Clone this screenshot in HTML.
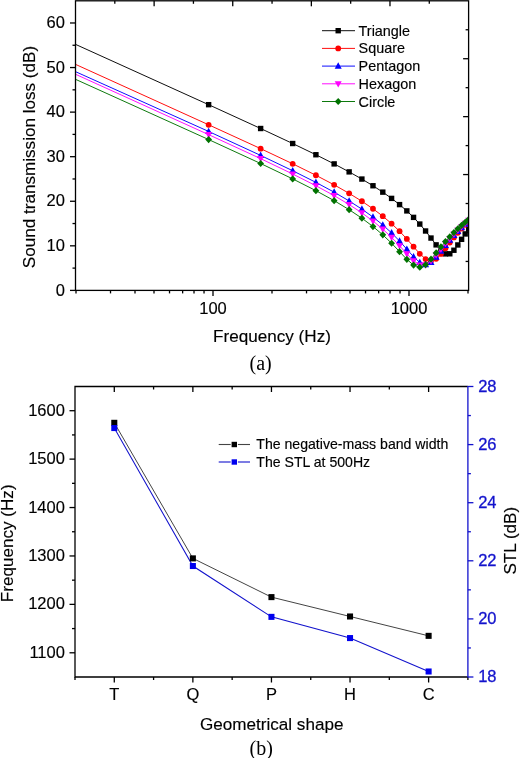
<!DOCTYPE html>
<html lang="en"><head><meta charset="utf-8"><title>Sound transmission loss figure</title>
<style>html,body{margin:0;padding:0;background:#fff}svg text{paint-order:stroke}svg text:not([fill]){stroke:#000;stroke-width:0.15px}svg text.s{stroke:none}body{width:520px;height:758px;overflow:hidden}</style>
</head><body>
<svg width="520" height="758" viewBox="0 0 520 758" style="display:block">
<rect width="520" height="758" fill="#fff"/>
<clipPath id="ca"><rect x="75.5" y="0.8" width="393.1" height="289.59999999999997"/></clipPath>
<g clip-path="url(#ca)">
<polyline fill="none" stroke="#000000" stroke-width="0.95" points="51.51,33.49 208.63,104.68 260.64,128.51 292.68,143.52 315.91,154.74 334.14,163.90 349.14,171.88 361.89,179.06 372.98,185.75 382.79,192.14 391.59,198.39 399.56,204.61 406.84,210.90 413.56,217.37 419.78,224.06 425.58,230.99 431.00,238.05 436.11,244.86 440.92,250.57 445.48,253.88 449.80,253.79 453.92,250.24 457.84,244.95 461.60,239.32 465.19,233.96 468.64,229.08"/>
<rect x="48.81" y="30.79" width="5.40" height="5.40" fill="#000000"/>
<rect x="205.93" y="101.98" width="5.40" height="5.40" fill="#000000"/>
<rect x="257.94" y="125.81" width="5.40" height="5.40" fill="#000000"/>
<rect x="289.98" y="140.82" width="5.40" height="5.40" fill="#000000"/>
<rect x="313.21" y="152.04" width="5.40" height="5.40" fill="#000000"/>
<rect x="331.44" y="161.20" width="5.40" height="5.40" fill="#000000"/>
<rect x="346.44" y="169.18" width="5.40" height="5.40" fill="#000000"/>
<rect x="359.19" y="176.36" width="5.40" height="5.40" fill="#000000"/>
<rect x="370.28" y="183.05" width="5.40" height="5.40" fill="#000000"/>
<rect x="380.09" y="189.44" width="5.40" height="5.40" fill="#000000"/>
<rect x="388.89" y="195.69" width="5.40" height="5.40" fill="#000000"/>
<rect x="396.86" y="201.91" width="5.40" height="5.40" fill="#000000"/>
<rect x="404.14" y="208.20" width="5.40" height="5.40" fill="#000000"/>
<rect x="410.86" y="214.67" width="5.40" height="5.40" fill="#000000"/>
<rect x="417.08" y="221.36" width="5.40" height="5.40" fill="#000000"/>
<rect x="422.88" y="228.29" width="5.40" height="5.40" fill="#000000"/>
<rect x="428.30" y="235.35" width="5.40" height="5.40" fill="#000000"/>
<rect x="433.41" y="242.16" width="5.40" height="5.40" fill="#000000"/>
<rect x="438.22" y="247.87" width="5.40" height="5.40" fill="#000000"/>
<rect x="442.78" y="251.18" width="5.40" height="5.40" fill="#000000"/>
<rect x="447.10" y="251.09" width="5.40" height="5.40" fill="#000000"/>
<rect x="451.22" y="247.54" width="5.40" height="5.40" fill="#000000"/>
<rect x="455.14" y="242.25" width="5.40" height="5.40" fill="#000000"/>
<rect x="458.90" y="236.62" width="5.40" height="5.40" fill="#000000"/>
<rect x="462.49" y="231.26" width="5.40" height="5.40" fill="#000000"/>
<rect x="465.94" y="226.38" width="5.40" height="5.40" fill="#000000"/>
<polyline fill="none" stroke="#ff0000" stroke-width="0.95" points="51.51,53.48 208.63,124.79 260.64,148.63 292.68,163.79 315.91,175.27 334.14,184.83 349.14,193.36 361.89,201.24 372.98,208.77 382.79,216.18 391.59,223.63 399.56,231.22 406.84,238.97 413.56,246.70 419.78,253.80 425.58,259.03 431.00,260.95 436.11,258.84 440.92,253.94 445.48,248.18 449.80,242.55 453.92,237.40 457.84,232.76 461.60,228.61 465.19,224.87 468.64,221.50"/>
<circle cx="51.51" cy="53.48" r="2.90" fill="#ff0000"/>
<circle cx="208.63" cy="124.79" r="2.90" fill="#ff0000"/>
<circle cx="260.64" cy="148.63" r="2.90" fill="#ff0000"/>
<circle cx="292.68" cy="163.79" r="2.90" fill="#ff0000"/>
<circle cx="315.91" cy="175.27" r="2.90" fill="#ff0000"/>
<circle cx="334.14" cy="184.83" r="2.90" fill="#ff0000"/>
<circle cx="349.14" cy="193.36" r="2.90" fill="#ff0000"/>
<circle cx="361.89" cy="201.24" r="2.90" fill="#ff0000"/>
<circle cx="372.98" cy="208.77" r="2.90" fill="#ff0000"/>
<circle cx="382.79" cy="216.18" r="2.90" fill="#ff0000"/>
<circle cx="391.59" cy="223.63" r="2.90" fill="#ff0000"/>
<circle cx="399.56" cy="231.22" r="2.90" fill="#ff0000"/>
<circle cx="406.84" cy="238.97" r="2.90" fill="#ff0000"/>
<circle cx="413.56" cy="246.70" r="2.90" fill="#ff0000"/>
<circle cx="419.78" cy="253.80" r="2.90" fill="#ff0000"/>
<circle cx="425.58" cy="259.03" r="2.90" fill="#ff0000"/>
<circle cx="431.00" cy="260.95" r="2.90" fill="#ff0000"/>
<circle cx="436.11" cy="258.84" r="2.90" fill="#ff0000"/>
<circle cx="440.92" cy="253.94" r="2.90" fill="#ff0000"/>
<circle cx="445.48" cy="248.18" r="2.90" fill="#ff0000"/>
<circle cx="449.80" cy="242.55" r="2.90" fill="#ff0000"/>
<circle cx="453.92" cy="237.40" r="2.90" fill="#ff0000"/>
<circle cx="457.84" cy="232.76" r="2.90" fill="#ff0000"/>
<circle cx="461.60" cy="228.61" r="2.90" fill="#ff0000"/>
<circle cx="465.19" cy="224.87" r="2.90" fill="#ff0000"/>
<circle cx="468.64" cy="221.50" r="2.90" fill="#ff0000"/>
<polyline fill="none" stroke="#0000ff" stroke-width="0.95" points="51.51,60.87 208.63,131.44 260.64,155.42 292.68,170.73 315.91,182.39 334.14,192.17 349.14,200.95 361.89,209.14 372.98,217.06 382.79,224.93 391.59,232.91 399.56,241.05 406.84,249.21 413.56,256.79 419.78,262.46 425.58,264.55 431.00,262.30 436.11,257.15 440.92,251.19 445.48,245.44 449.80,240.20 453.92,235.52 457.84,231.34 461.60,227.59 465.19,224.20 468.64,221.12"/>
<polygon points="51.51,57.07 48.01,63.47 55.01,63.47" fill="#0000ff"/>
<polygon points="208.63,127.64 205.13,134.04 212.13,134.04" fill="#0000ff"/>
<polygon points="260.64,151.62 257.14,158.02 264.14,158.02" fill="#0000ff"/>
<polygon points="292.68,166.93 289.18,173.33 296.18,173.33" fill="#0000ff"/>
<polygon points="315.91,178.59 312.41,184.99 319.41,184.99" fill="#0000ff"/>
<polygon points="334.14,188.37 330.64,194.77 337.64,194.77" fill="#0000ff"/>
<polygon points="349.14,197.15 345.64,203.55 352.64,203.55" fill="#0000ff"/>
<polygon points="361.89,205.34 358.39,211.74 365.39,211.74" fill="#0000ff"/>
<polygon points="372.98,213.26 369.48,219.66 376.48,219.66" fill="#0000ff"/>
<polygon points="382.79,221.13 379.29,227.53 386.29,227.53" fill="#0000ff"/>
<polygon points="391.59,229.11 388.09,235.51 395.09,235.51" fill="#0000ff"/>
<polygon points="399.56,237.25 396.06,243.65 403.06,243.65" fill="#0000ff"/>
<polygon points="406.84,245.41 403.34,251.81 410.34,251.81" fill="#0000ff"/>
<polygon points="413.56,252.99 410.06,259.39 417.06,259.39" fill="#0000ff"/>
<polygon points="419.78,258.66 416.28,265.06 423.28,265.06" fill="#0000ff"/>
<polygon points="425.58,260.75 422.08,267.15 429.08,267.15" fill="#0000ff"/>
<polygon points="431.00,258.50 427.50,264.90 434.50,264.90" fill="#0000ff"/>
<polygon points="436.11,253.35 432.61,259.75 439.61,259.75" fill="#0000ff"/>
<polygon points="440.92,247.39 437.42,253.79 444.42,253.79" fill="#0000ff"/>
<polygon points="445.48,241.64 441.98,248.04 448.98,248.04" fill="#0000ff"/>
<polygon points="449.80,236.40 446.30,242.80 453.30,242.80" fill="#0000ff"/>
<polygon points="453.92,231.72 450.42,238.12 457.42,238.12" fill="#0000ff"/>
<polygon points="457.84,227.54 454.34,233.94 461.34,233.94" fill="#0000ff"/>
<polygon points="461.60,223.79 458.10,230.19 465.10,230.19" fill="#0000ff"/>
<polygon points="465.19,220.40 461.69,226.80 468.69,226.80" fill="#0000ff"/>
<polygon points="468.64,217.32 465.14,223.72 472.14,223.72" fill="#0000ff"/>
<polyline fill="none" stroke="#ff00ff" stroke-width="0.95" points="51.51,63.37 208.63,134.64 260.64,158.64 292.68,174.00 315.91,185.74 334.14,195.62 349.14,204.54 361.89,212.90 372.98,221.03 382.79,229.14 391.59,237.38 399.56,245.73 406.84,253.88 413.56,260.87 419.78,265.01 425.58,264.93 431.00,260.86 436.11,255.04 440.92,249.08 445.48,243.55 449.80,238.58 453.92,234.16 457.84,230.20 461.60,226.64 465.19,223.41 468.64,220.47"/>
<polygon points="51.51,67.17 48.01,60.77 55.01,60.77" fill="#ff00ff"/>
<polygon points="208.63,138.44 205.13,132.04 212.13,132.04" fill="#ff00ff"/>
<polygon points="260.64,162.44 257.14,156.04 264.14,156.04" fill="#ff00ff"/>
<polygon points="292.68,177.80 289.18,171.40 296.18,171.40" fill="#ff00ff"/>
<polygon points="315.91,189.54 312.41,183.14 319.41,183.14" fill="#ff00ff"/>
<polygon points="334.14,199.42 330.64,193.02 337.64,193.02" fill="#ff00ff"/>
<polygon points="349.14,208.34 345.64,201.94 352.64,201.94" fill="#ff00ff"/>
<polygon points="361.89,216.70 358.39,210.30 365.39,210.30" fill="#ff00ff"/>
<polygon points="372.98,224.83 369.48,218.43 376.48,218.43" fill="#ff00ff"/>
<polygon points="382.79,232.94 379.29,226.54 386.29,226.54" fill="#ff00ff"/>
<polygon points="391.59,241.18 388.09,234.78 395.09,234.78" fill="#ff00ff"/>
<polygon points="399.56,249.53 396.06,243.13 403.06,243.13" fill="#ff00ff"/>
<polygon points="406.84,257.68 403.34,251.28 410.34,251.28" fill="#ff00ff"/>
<polygon points="413.56,264.67 410.06,258.27 417.06,258.27" fill="#ff00ff"/>
<polygon points="419.78,268.81 416.28,262.41 423.28,262.41" fill="#ff00ff"/>
<polygon points="425.58,268.73 422.08,262.33 429.08,262.33" fill="#ff00ff"/>
<polygon points="431.00,264.66 427.50,258.26 434.50,258.26" fill="#ff00ff"/>
<polygon points="436.11,258.84 432.61,252.44 439.61,252.44" fill="#ff00ff"/>
<polygon points="440.92,252.88 437.42,246.48 444.42,246.48" fill="#ff00ff"/>
<polygon points="445.48,247.35 441.98,240.95 448.98,240.95" fill="#ff00ff"/>
<polygon points="449.80,242.38 446.30,235.98 453.30,235.98" fill="#ff00ff"/>
<polygon points="453.92,237.96 450.42,231.56 457.42,231.56" fill="#ff00ff"/>
<polygon points="457.84,234.00 454.34,227.60 461.34,227.60" fill="#ff00ff"/>
<polygon points="461.60,230.44 458.10,224.04 465.10,224.04" fill="#ff00ff"/>
<polygon points="465.19,227.21 461.69,220.81 468.69,220.81" fill="#ff00ff"/>
<polygon points="468.64,224.27 465.14,217.87 472.14,217.87" fill="#ff00ff"/>
<polyline fill="none" stroke="#007200" stroke-width="0.95" points="51.51,68.45 208.63,139.55 260.64,163.51 292.68,178.88 315.91,190.67 334.14,200.63 349.14,209.68 361.89,218.21 372.98,226.53 382.79,234.85 391.59,243.26 399.56,251.63 406.84,259.36 413.56,265.11 419.78,267.22 425.58,264.74 431.00,259.18 436.11,252.89 440.92,246.92 445.48,241.55 449.80,236.79 453.92,232.55 457.84,228.76 461.60,225.35 465.19,222.25 468.64,219.42"/>
<polygon points="51.51,64.85 54.91,68.45 51.51,72.05 48.11,68.45" fill="#007200"/>
<polygon points="208.63,135.95 212.03,139.55 208.63,143.15 205.23,139.55" fill="#007200"/>
<polygon points="260.64,159.91 264.04,163.51 260.64,167.11 257.24,163.51" fill="#007200"/>
<polygon points="292.68,175.28 296.08,178.88 292.68,182.48 289.28,178.88" fill="#007200"/>
<polygon points="315.91,187.07 319.31,190.67 315.91,194.27 312.51,190.67" fill="#007200"/>
<polygon points="334.14,197.03 337.54,200.63 334.14,204.23 330.74,200.63" fill="#007200"/>
<polygon points="349.14,206.08 352.54,209.68 349.14,213.28 345.74,209.68" fill="#007200"/>
<polygon points="361.89,214.61 365.29,218.21 361.89,221.81 358.49,218.21" fill="#007200"/>
<polygon points="372.98,222.93 376.38,226.53 372.98,230.13 369.58,226.53" fill="#007200"/>
<polygon points="382.79,231.25 386.19,234.85 382.79,238.45 379.39,234.85" fill="#007200"/>
<polygon points="391.59,239.66 394.99,243.26 391.59,246.86 388.19,243.26" fill="#007200"/>
<polygon points="399.56,248.03 402.96,251.63 399.56,255.23 396.16,251.63" fill="#007200"/>
<polygon points="406.84,255.76 410.24,259.36 406.84,262.96 403.44,259.36" fill="#007200"/>
<polygon points="413.56,261.51 416.96,265.11 413.56,268.71 410.16,265.11" fill="#007200"/>
<polygon points="419.78,263.62 423.18,267.22 419.78,270.82 416.38,267.22" fill="#007200"/>
<polygon points="425.58,261.14 428.98,264.74 425.58,268.34 422.18,264.74" fill="#007200"/>
<polygon points="431.00,255.58 434.40,259.18 431.00,262.78 427.60,259.18" fill="#007200"/>
<polygon points="436.11,249.29 439.51,252.89 436.11,256.49 432.71,252.89" fill="#007200"/>
<polygon points="440.92,243.32 444.32,246.92 440.92,250.52 437.52,246.92" fill="#007200"/>
<polygon points="445.48,237.95 448.88,241.55 445.48,245.15 442.08,241.55" fill="#007200"/>
<polygon points="449.80,233.19 453.20,236.79 449.80,240.39 446.40,236.79" fill="#007200"/>
<polygon points="453.92,228.95 457.32,232.55 453.92,236.15 450.52,232.55" fill="#007200"/>
<polygon points="457.84,225.16 461.24,228.76 457.84,232.36 454.44,228.76" fill="#007200"/>
<polygon points="461.60,221.75 465.00,225.35 461.60,228.95 458.20,225.35" fill="#007200"/>
<polygon points="465.19,218.65 468.59,222.25 465.19,225.85 461.79,222.25" fill="#007200"/>
<polygon points="468.64,215.82 472.04,219.42 468.64,223.02 465.24,219.42" fill="#007200"/>
</g>
<g stroke="#000" stroke-width="1.3" fill="none">
<rect x="75.5" y="0.8" width="393.1" height="289.59999999999997"/>
<line x1="70.0" y1="290.40" x2="75.5" y2="290.40"/>
<line x1="72.5" y1="268.11" x2="75.5" y2="268.11"/>
<line x1="70.0" y1="245.83" x2="75.5" y2="245.83"/>
<line x1="72.5" y1="223.54" x2="75.5" y2="223.54"/>
<line x1="70.0" y1="201.26" x2="75.5" y2="201.26"/>
<line x1="72.5" y1="178.97" x2="75.5" y2="178.97"/>
<line x1="70.0" y1="156.69" x2="75.5" y2="156.69"/>
<line x1="72.5" y1="134.40" x2="75.5" y2="134.40"/>
<line x1="70.0" y1="112.12" x2="75.5" y2="112.12"/>
<line x1="72.5" y1="89.83" x2="75.5" y2="89.83"/>
<line x1="70.0" y1="67.55" x2="75.5" y2="67.55"/>
<line x1="72.5" y1="45.26" x2="75.5" y2="45.26"/>
<line x1="70.0" y1="22.98" x2="75.5" y2="22.98"/>
<line x1="465.6" y1="29.76" x2="468.6" y2="29.76"/>
<line x1="463.1" y1="58.72" x2="468.6" y2="58.72"/>
<line x1="465.6" y1="87.68" x2="468.6" y2="87.68"/>
<line x1="463.1" y1="116.64" x2="468.6" y2="116.64"/>
<line x1="465.6" y1="145.60" x2="468.6" y2="145.60"/>
<line x1="463.1" y1="174.56" x2="468.6" y2="174.56"/>
<line x1="465.6" y1="203.52" x2="468.6" y2="203.52"/>
<line x1="463.1" y1="232.48" x2="468.6" y2="232.48"/>
<line x1="465.6" y1="261.44" x2="468.6" y2="261.44"/>
<line x1="114.81" y1="0.8" x2="114.81" y2="3.8"/>
<line x1="154.12" y1="0.8" x2="154.12" y2="6.3"/>
<line x1="193.43" y1="0.8" x2="193.43" y2="3.8"/>
<line x1="232.74" y1="0.8" x2="232.74" y2="6.3"/>
<line x1="272.05" y1="0.8" x2="272.05" y2="3.8"/>
<line x1="311.36" y1="0.8" x2="311.36" y2="6.3"/>
<line x1="350.67" y1="0.8" x2="350.67" y2="3.8"/>
<line x1="389.98" y1="0.8" x2="389.98" y2="6.3"/>
<line x1="429.29" y1="0.8" x2="429.29" y2="3.8"/>
<line x1="76.00" y1="290.4" x2="76.00" y2="293.4"/>
<line x1="110.52" y1="290.4" x2="110.52" y2="293.4"/>
<line x1="135.00" y1="290.4" x2="135.00" y2="293.4"/>
<line x1="154.00" y1="290.4" x2="154.00" y2="293.4"/>
<line x1="169.52" y1="290.4" x2="169.52" y2="293.4"/>
<line x1="182.64" y1="290.4" x2="182.64" y2="293.4"/>
<line x1="194.01" y1="290.4" x2="194.01" y2="293.4"/>
<line x1="204.03" y1="290.4" x2="204.03" y2="293.4"/>
<line x1="213.00" y1="290.4" x2="213.00" y2="295.9"/>
<line x1="272.00" y1="290.4" x2="272.00" y2="293.4"/>
<line x1="306.52" y1="290.4" x2="306.52" y2="293.4"/>
<line x1="331.00" y1="290.4" x2="331.00" y2="293.4"/>
<line x1="350.00" y1="290.4" x2="350.00" y2="293.4"/>
<line x1="365.52" y1="290.4" x2="365.52" y2="293.4"/>
<line x1="378.64" y1="290.4" x2="378.64" y2="293.4"/>
<line x1="390.01" y1="290.4" x2="390.01" y2="293.4"/>
<line x1="400.03" y1="290.4" x2="400.03" y2="293.4"/>
<line x1="409.00" y1="290.4" x2="409.00" y2="295.9"/>
<line x1="468.00" y1="290.4" x2="468.00" y2="293.4"/>
</g>
<text x="64.9" y="295.50" text-anchor="end" font-size="16.5" font-family="Liberation Sans, Arial, sans-serif">0</text>
<text x="64.9" y="250.93" text-anchor="end" font-size="16.5" font-family="Liberation Sans, Arial, sans-serif">10</text>
<text x="64.9" y="206.36" text-anchor="end" font-size="16.5" font-family="Liberation Sans, Arial, sans-serif">20</text>
<text x="64.9" y="161.79" text-anchor="end" font-size="16.5" font-family="Liberation Sans, Arial, sans-serif">30</text>
<text x="64.9" y="117.22" text-anchor="end" font-size="16.5" font-family="Liberation Sans, Arial, sans-serif">40</text>
<text x="64.9" y="72.65" text-anchor="end" font-size="16.5" font-family="Liberation Sans, Arial, sans-serif">50</text>
<text x="64.9" y="28.08" text-anchor="end" font-size="16.5" font-family="Liberation Sans, Arial, sans-serif">60</text>
<text x="213.00" y="313.9" text-anchor="middle" font-size="16.5" font-family="Liberation Sans, Arial, sans-serif">100</text>
<text x="409.00" y="313.9" text-anchor="middle" font-size="16.5" font-family="Liberation Sans, Arial, sans-serif">1000</text>
<text x="272" y="342" text-anchor="middle" font-size="17.1" font-family="Liberation Sans, Arial, sans-serif">Frequency (Hz)</text>
<text transform="translate(34.6,157) rotate(-90)" text-anchor="middle" font-size="17.1" font-family="Liberation Sans, Arial, sans-serif">Sound transmission loss (dB)</text>
<text x="260.6" y="369.5" text-anchor="middle" font-size="20" class="s" font-family="Liberation Serif, Times New Roman, serif">(a)</text>
<line x1="322" y1="30.70" x2="355" y2="30.70" stroke="#000000" stroke-width="0.95"/>
<rect x="335.50" y="28.00" width="5.40" height="5.40" fill="#000000"/>
<text x="358.6" y="35.70" font-size="14.4" font-family="Liberation Sans, Arial, sans-serif">Triangle</text>
<line x1="322" y1="48.40" x2="355" y2="48.40" stroke="#ff0000" stroke-width="0.95"/>
<circle cx="338.20" cy="48.40" r="2.90" fill="#ff0000"/>
<text x="358.6" y="53.40" font-size="14.4" font-family="Liberation Sans, Arial, sans-serif">Square</text>
<line x1="322" y1="66.10" x2="355" y2="66.10" stroke="#0000ff" stroke-width="0.95"/>
<polygon points="338.20,62.30 334.70,68.70 341.70,68.70" fill="#0000ff"/>
<text x="358.6" y="71.10" font-size="14.4" font-family="Liberation Sans, Arial, sans-serif">Pentagon</text>
<line x1="322" y1="83.80" x2="355" y2="83.80" stroke="#ff00ff" stroke-width="0.95"/>
<polygon points="338.20,87.60 334.70,81.20 341.70,81.20" fill="#ff00ff"/>
<text x="358.6" y="88.80" font-size="14.4" font-family="Liberation Sans, Arial, sans-serif">Hexagon</text>
<line x1="322" y1="101.50" x2="355" y2="101.50" stroke="#007200" stroke-width="0.95"/>
<polygon points="338.20,97.90 341.60,101.50 338.20,105.10 334.80,101.50" fill="#007200"/>
<text x="358.6" y="106.50" font-size="14.4" font-family="Liberation Sans, Arial, sans-serif">Circle</text>
<polyline fill="none" stroke="#444" stroke-width="1.0" points="114.29,422.81 192.87,558.38 271.45,597.11 350.03,616.48 428.61,635.85"/>
<polyline fill="none" stroke="#1212cc" stroke-width="1.05" points="114.29,428.04 192.87,566.03 271.45,616.87 350.03,638.07 428.61,671.48"/>
<rect x="111.27" y="419.79" width="6.05" height="6.05" fill="#000"/>
<rect x="189.85" y="555.36" width="6.05" height="6.05" fill="#000"/>
<rect x="268.43" y="594.09" width="6.05" height="6.05" fill="#000"/>
<rect x="347.01" y="613.46" width="6.05" height="6.05" fill="#000"/>
<rect x="425.59" y="632.82" width="6.05" height="6.05" fill="#000"/>
<rect x="111.27" y="425.02" width="6.05" height="6.05" fill="#0000ee"/>
<rect x="189.85" y="563.00" width="6.05" height="6.05" fill="#0000ee"/>
<rect x="268.43" y="613.84" width="6.05" height="6.05" fill="#0000ee"/>
<rect x="347.01" y="635.05" width="6.05" height="6.05" fill="#0000ee"/>
<rect x="425.59" y="668.46" width="6.05" height="6.05" fill="#0000ee"/>
<g stroke="#000" stroke-width="1.3" fill="none">
<polyline points="467.9,386.5 75.0,386.5 75.0,677.0 467.9,677.0"/>
<line x1="69.5" y1="652.79" x2="75.0" y2="652.79"/>
<line x1="72.0" y1="628.58" x2="75.0" y2="628.58"/>
<line x1="69.5" y1="604.38" x2="75.0" y2="604.38"/>
<line x1="72.0" y1="580.17" x2="75.0" y2="580.17"/>
<line x1="69.5" y1="555.96" x2="75.0" y2="555.96"/>
<line x1="72.0" y1="531.75" x2="75.0" y2="531.75"/>
<line x1="69.5" y1="507.54" x2="75.0" y2="507.54"/>
<line x1="72.0" y1="483.33" x2="75.0" y2="483.33"/>
<line x1="69.5" y1="459.12" x2="75.0" y2="459.12"/>
<line x1="72.0" y1="434.92" x2="75.0" y2="434.92"/>
<line x1="69.5" y1="410.71" x2="75.0" y2="410.71"/>
<line x1="75.00" y1="677.0" x2="75.00" y2="680.0"/>
<line x1="114.29" y1="677.0" x2="114.29" y2="682.5"/>
<line x1="114.29" y1="386.5" x2="114.29" y2="392.0"/>
<line x1="153.58" y1="677.0" x2="153.58" y2="680.0"/>
<line x1="153.58" y1="386.5" x2="153.58" y2="389.5"/>
<line x1="192.87" y1="677.0" x2="192.87" y2="682.5"/>
<line x1="192.87" y1="386.5" x2="192.87" y2="392.0"/>
<line x1="232.16" y1="677.0" x2="232.16" y2="680.0"/>
<line x1="232.16" y1="386.5" x2="232.16" y2="389.5"/>
<line x1="271.45" y1="677.0" x2="271.45" y2="682.5"/>
<line x1="271.45" y1="386.5" x2="271.45" y2="392.0"/>
<line x1="310.74" y1="677.0" x2="310.74" y2="680.0"/>
<line x1="310.74" y1="386.5" x2="310.74" y2="389.5"/>
<line x1="350.03" y1="677.0" x2="350.03" y2="682.5"/>
<line x1="350.03" y1="386.5" x2="350.03" y2="392.0"/>
<line x1="389.32" y1="677.0" x2="389.32" y2="680.0"/>
<line x1="389.32" y1="386.5" x2="389.32" y2="389.5"/>
<line x1="428.61" y1="677.0" x2="428.61" y2="682.5"/>
<line x1="428.61" y1="386.5" x2="428.61" y2="392.0"/>
<line x1="467.90" y1="677.0" x2="467.90" y2="680.0"/>
</g>
<g stroke="#1212cc" stroke-width="1.3" fill="none">
<line x1="467.9" y1="385.9" x2="467.9" y2="677.6"/>
<line x1="467.9" y1="677.00" x2="473.4" y2="677.00"/>
<line x1="467.9" y1="647.95" x2="470.9" y2="647.95"/>
<line x1="467.9" y1="618.90" x2="473.4" y2="618.90"/>
<line x1="467.9" y1="589.85" x2="470.9" y2="589.85"/>
<line x1="467.9" y1="560.80" x2="473.4" y2="560.80"/>
<line x1="467.9" y1="531.75" x2="470.9" y2="531.75"/>
<line x1="467.9" y1="502.70" x2="473.4" y2="502.70"/>
<line x1="467.9" y1="473.65" x2="470.9" y2="473.65"/>
<line x1="467.9" y1="444.60" x2="473.4" y2="444.60"/>
<line x1="467.9" y1="415.55" x2="470.9" y2="415.55"/>
<line x1="467.9" y1="386.50" x2="473.4" y2="386.50"/>
</g>
<text x="64.9" y="657.89" text-anchor="end" font-size="16.5" font-family="Liberation Sans, Arial, sans-serif">1100</text>
<text x="64.9" y="609.48" text-anchor="end" font-size="16.5" font-family="Liberation Sans, Arial, sans-serif">1200</text>
<text x="64.9" y="561.06" text-anchor="end" font-size="16.5" font-family="Liberation Sans, Arial, sans-serif">1300</text>
<text x="64.9" y="512.64" text-anchor="end" font-size="16.5" font-family="Liberation Sans, Arial, sans-serif">1400</text>
<text x="64.9" y="464.23" text-anchor="end" font-size="16.5" font-family="Liberation Sans, Arial, sans-serif">1500</text>
<text x="64.9" y="415.81" text-anchor="end" font-size="16.5" font-family="Liberation Sans, Arial, sans-serif">1600</text>
<text x="478.2" y="682.10" font-size="16.5" fill="#1212cc" stroke="#1212cc" stroke-width="0.3" font-family="Liberation Sans, Arial, sans-serif">18</text>
<text x="478.2" y="624.00" font-size="16.5" fill="#1212cc" stroke="#1212cc" stroke-width="0.3" font-family="Liberation Sans, Arial, sans-serif">20</text>
<text x="478.2" y="565.90" font-size="16.5" fill="#1212cc" stroke="#1212cc" stroke-width="0.3" font-family="Liberation Sans, Arial, sans-serif">22</text>
<text x="478.2" y="507.80" font-size="16.5" fill="#1212cc" stroke="#1212cc" stroke-width="0.3" font-family="Liberation Sans, Arial, sans-serif">24</text>
<text x="478.2" y="449.70" font-size="16.5" fill="#1212cc" stroke="#1212cc" stroke-width="0.3" font-family="Liberation Sans, Arial, sans-serif">26</text>
<text x="478.2" y="391.60" font-size="16.5" fill="#1212cc" stroke="#1212cc" stroke-width="0.3" font-family="Liberation Sans, Arial, sans-serif">28</text>
<text x="114.29" y="699.8" text-anchor="middle" font-size="16.5" font-family="Liberation Sans, Arial, sans-serif">T</text>
<text x="192.87" y="699.8" text-anchor="middle" font-size="16.5" font-family="Liberation Sans, Arial, sans-serif">Q</text>
<text x="271.45" y="699.8" text-anchor="middle" font-size="16.5" font-family="Liberation Sans, Arial, sans-serif">P</text>
<text x="350.03" y="699.8" text-anchor="middle" font-size="16.5" font-family="Liberation Sans, Arial, sans-serif">H</text>
<text x="428.61" y="699.8" text-anchor="middle" font-size="16.5" font-family="Liberation Sans, Arial, sans-serif">C</text>
<text x="271.7" y="729.8" text-anchor="middle" font-size="17.1" font-family="Liberation Sans, Arial, sans-serif">Geometrical shape</text>
<text transform="translate(12.9,543.3) rotate(-90)" text-anchor="middle" font-size="17.1" font-family="Liberation Sans, Arial, sans-serif">Frequency (Hz)</text>
<text transform="translate(516,540.7) rotate(-90)" text-anchor="middle" font-size="17.1" font-family="Liberation Sans, Arial, sans-serif">STL (dB)</text>
<text x="261.2" y="754.8" text-anchor="middle" font-size="20" class="s" font-family="Liberation Serif, Times New Roman, serif">(b)</text>
<line x1="218.7" y1="444.5" x2="250" y2="444.5" stroke="#444" stroke-width="1.1"/>
<rect x="230.70000000000002" y="440.9" width="7.2" height="7.2" fill="#fff"/>
<rect x="231.60" y="441.80" width="5.40" height="5.40" fill="#000"/>
<text x="256.3" y="449.3" font-size="14.1" font-family="Liberation Sans, Arial, sans-serif">The negative-mass band width</text>
<line x1="218.7" y1="462.0" x2="250" y2="462.0" stroke="#1212cc" stroke-width="1.1"/>
<rect x="230.70000000000002" y="458.4" width="7.2" height="7.2" fill="#fff"/>
<rect x="231.60" y="459.30" width="5.40" height="5.40" fill="#0000ee"/>
<text x="256.3" y="466.8" font-size="14.1" font-family="Liberation Sans, Arial, sans-serif">The STL at 500Hz</text>
</svg>
</body></html>
